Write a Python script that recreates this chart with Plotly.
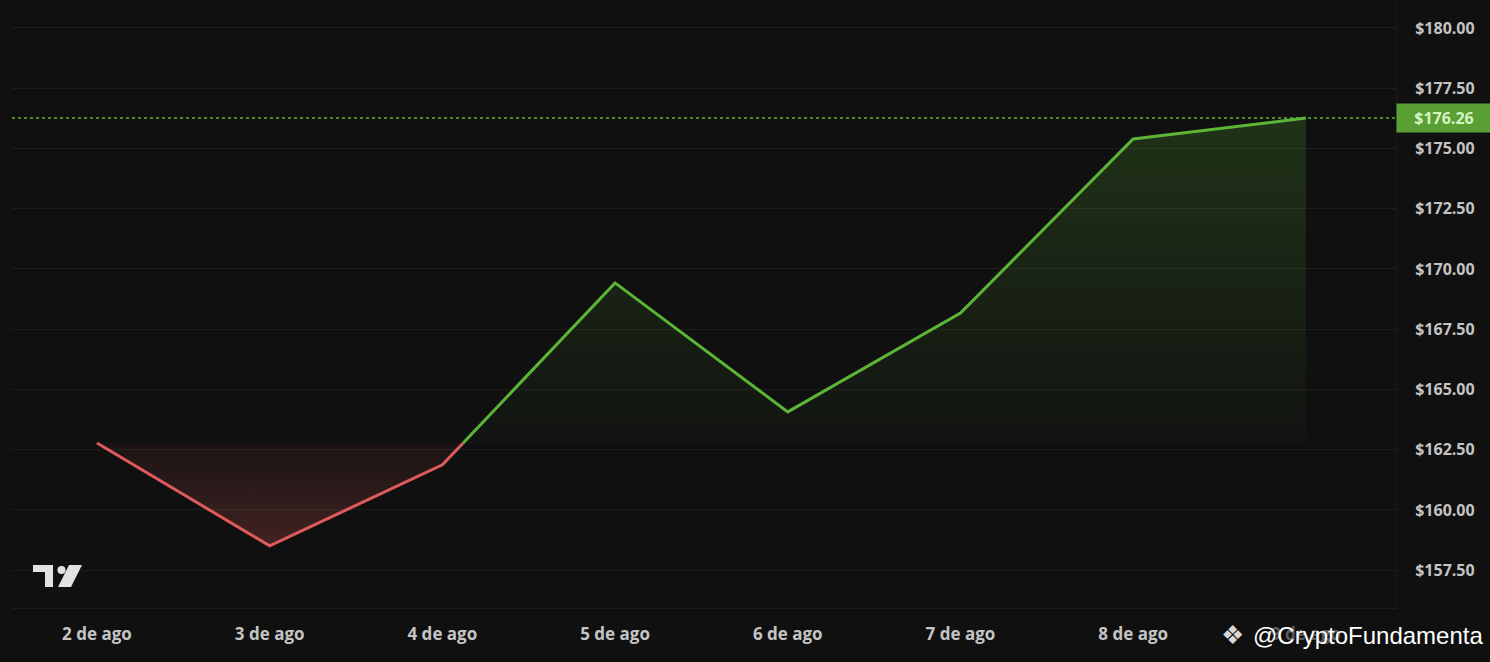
import plotly.graph_objects as go
import pandas as pd

# ---- data ----
dates = ["2024-08-02", "2024-08-03", "2024-08-04", "2024-08-05",
         "2024-08-06", "2024-08-07", "2024-08-08", "2024-08-09"]
prices = [162.78, 158.51, 161.87, 169.42, 164.07, 168.17, 175.39, 176.26]
tick_labels = ["2 de ago", "3 de ago", "4 de ago", "5 de ago",
               "6 de ago", "7 de ago", "8 de ago", "9 de ago"]
last_price = prices[-1]
baseline = prices[0]

# ---- styles ----
BG = "#101010"
GRID = "#1d1d1d"
GREEN = "#5cb535"
RED = "#df5a5a"
TXT = "#c4c4c4"

# ---- split series at the baseline crossings ----
ts = [pd.Timestamp(d) for d in dates]
segments = []  # list of (is_up, xs, ys)
cur_x, cur_y = [ts[0]], [prices[0]]
cur_up = prices[1] >= baseline
for i in range(1, len(prices)):
    up = prices[i] >= baseline
    if up != cur_up and prices[i] != baseline:
        y0, y1 = prices[i - 1], prices[i]
        t = (baseline - y0) / (y1 - y0)
        xc = ts[i - 1] + (ts[i] - ts[i - 1]) * t
        cur_x.append(xc); cur_y.append(baseline)
        segments.append((cur_up, cur_x, cur_y))
        cur_x, cur_y = [xc], [baseline]
        cur_up = up
    cur_x.append(ts[i]); cur_y.append(prices[i])
segments.append((cur_up, cur_x, cur_y))

fig = go.Figure()
for up, xs, ys in segments:
    fig.add_trace(go.Scatter(x=xs, y=[baseline] * len(xs), mode="lines",
                             line=dict(width=0), hoverinfo="skip", showlegend=False))
    if up:
        grad = dict(type="vertical", start=baseline, stop=max(prices),
                    colorscale=[[0, "rgba(92,181,53,0.02)"], [1, "rgba(92,181,53,0.21)"]])
    else:
        grad = dict(type="vertical", start=baseline, stop=min(prices),
                    colorscale=[[0, "rgba(223,90,90,0.05)"], [1, "rgba(223,90,90,0.24)"]])
    fig.add_trace(go.Scatter(x=xs, y=ys, mode="lines",
                             line=dict(color=GREEN if up else RED, width=3),
                             fill="tonexty", fillgradient=grad,
                             showlegend=False))

# ---- layout geometry ----
W, H = 1490, 662
L, R, T, B = 12, 94, 0, 54
pw, ph = W - L - R, H - T - B
day = pd.Timedelta(days=1)
x_lo = ts[0] - day * 0.492
x_hi = ts[0] + day * 7.522


def px(x):
    return (x - L) / pw


def py(y):
    return 1 - (y - T) / ph


# last tick label sits under the watermark and is dimmed
tick_text = tick_labels[:-1] + [f"<span style='color:#5c5c5c'>{tick_labels[-1]}</span>"]

fig.update_layout(
    width=W, height=H,
    margin=dict(l=L, r=R, t=T, b=B),
    paper_bgcolor=BG, plot_bgcolor=BG,
    font=dict(family="Open Sans", color=TXT),
    xaxis=dict(range=[x_lo, x_hi], tickvals=ts, ticktext=tick_text,
               showgrid=False, zeroline=False, showline=True, linecolor=GRID,
               ticks="", tickfont=dict(size=17, color=TXT, weight=700),
               ticklabelstandoff=11),
    yaxis=dict(side="right", range=[155.93, 181.16], tick0=0, dtick=2.5,
               tickformat=".2f", tickprefix="$", showgrid=True, gridcolor=GRID,
               gridwidth=1, zeroline=False, showline=True, linecolor="#1a1a1a",
               ticks="", tickfont=dict(size=16, color=TXT, weight=700),
               ticklabelstandoff=15),
    hovermode=False,
)

# last price line and label
fig.add_shape(type="line", xref="paper", yref="y", x0=0, x1=1,
              y0=last_price, y1=last_price,
              line=dict(color=GREEN, width=1.5, dash="dot"))
fig.add_annotation(xref="paper", yref="y", x=1, y=last_price, xanchor="left",
                   yanchor="middle", text=f"${last_price:.2f}", showarrow=False,
                   bgcolor="#5a9f34", borderpad=3, width=88,
                   font=dict(size=16, color="#d4f5c0", weight=700))

# TradingView logo
fig.add_shape(type="path", xref="paper", yref="paper",
              path="M {} {} L {} {} L {} {} L {} {} L {} {} L {} {} Z".format(
                  px(33), py(565), px(53), py(565), px(53), py(587),
                  px(45), py(587), px(45), py(572), px(33), py(572)),
              fillcolor="#e2e2e2", line=dict(width=0))
fig.add_shape(type="circle", xref="paper", yref="paper",
              x0=px(57.5), x1=px(65.5), y0=py(574), y1=py(566),
              fillcolor="#e2e2e2", line=dict(width=0))
fig.add_shape(type="path", xref="paper", yref="paper",
              path="M {} {} L {} {} L {} {} L {} {} Z".format(
                  px(69), py(565), px(82), py(565), px(71), py(587), px(58), py(587)),
              fillcolor="#e2e2e2", line=dict(width=0))

# watermark
fig.add_annotation(xref="paper", yref="paper", x=px(1219), y=py(635),
                   xanchor="left", yanchor="middle", text="❖", showarrow=False,
                   font=dict(size=26, color="#d8d8d8", family="DejaVu Sans"))
fig.add_annotation(xref="paper", yref="paper", x=px(1251), y=py(635),
                   xanchor="left", yanchor="middle", text="@CryptoFundamenta",
                   showarrow=False,
                   font=dict(size=24, color="#ffffff", family="Liberation Sans"))

fig.write_html("out.html",
               config={"displayModeBar": False},
               post_script="document.body.style.margin='0';"
                           "document.body.style.background='#101010';")
